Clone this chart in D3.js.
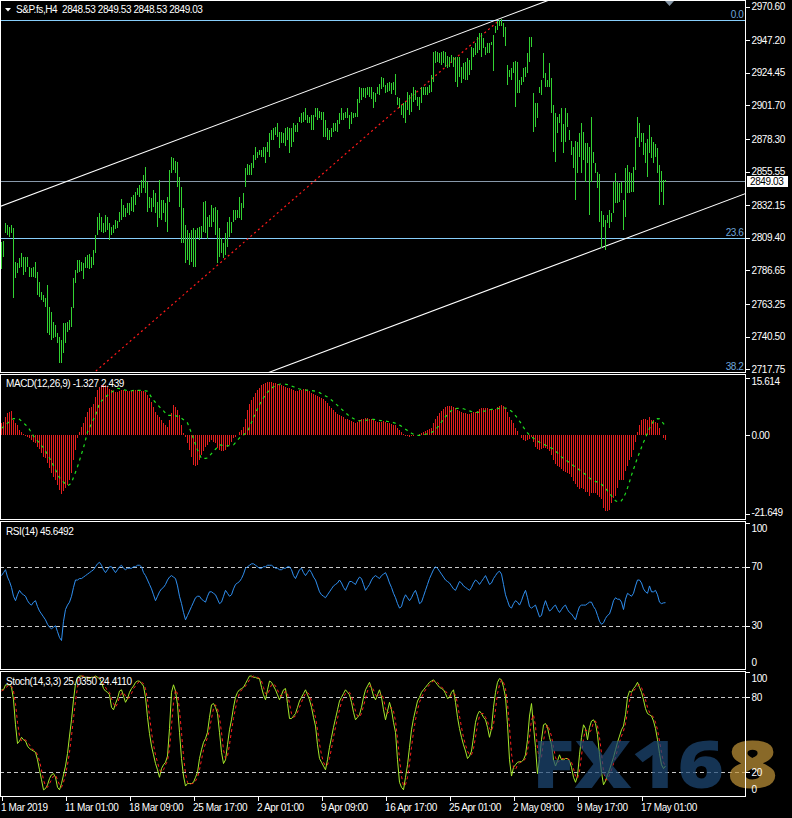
<!DOCTYPE html>
<html><head><meta charset="utf-8">
<script src="https://cdn.jsdelivr.net/npm/d3@7"></script>
<style>
html,body{margin:0;padding:0;background:#000;overflow:hidden}
svg{display:block}
</style></head><body>
<svg id="c" width="792" height="818"></svg>
<script>
// ---------- DATA ----------
const symbolTitle = "S&P.fs,H4  2848.53 2849.53 2848.53 2849.03";
const barHigh = [
2806.7,2807.4,2819.5,2818.3,2817.2,2818.3,2816.0,2792.8,2791.6,2795.1,
2798.6,2796.3,2796.3,2796.3,2789.3,2788.1,2789.3,2792.8,2785.8,2778.9,
2771.9,2769.6,2767.2,2776.5,2761.4,2757.9,2751.0,2748.6,2742.9,2740.5,
2738.2,2749.8,2749.8,2751.0,2752.1,2761.4,2781.2,2787.0,2794.0,2794.0,
2792.8,2791.6,2796.3,2797.4,2797.9,2796.3,2800.9,2811.4,2824.2,2826.9,
2824.2,2819.5,2825.3,2824.2,2819.5,2817.2,2818.3,2821.8,2821.3,2827.6,
2836.2,2832.3,2830.0,2833.4,2833.4,2838.1,2839.3,2841.6,2844.4,2846.2,
2849.7,2853.2,2859.0,2848.5,2838.1,2836.9,2842.7,2840.4,2834.6,2849.7,
2835.8,2835.8,2833.4,2838.1,2856.7,2866.0,2864.8,2863.2,2862.5,2852.0,
2845.1,2830.0,2818.3,2814.9,2812.5,2814.9,2816.0,2814.9,2816.0,2817.2,
2817.6,2834.6,2835.1,2824.2,2825.3,2832.3,2830.0,2831.1,2828.8,2816.0,
2809.1,2805.6,2812.5,2820.7,2824.2,2820.7,2828.8,2828.8,2828.8,2838.1,
2833.4,2840.9,2857.8,2860.9,2860.2,2861.8,2867.1,2872.9,2869.5,2870.6,
2870.6,2872.9,2872.9,2876.4,2882.2,2884.6,2885.7,2886.9,2889.6,2883.4,
2883.4,2882.7,2885.7,2886.9,2885.7,2885.7,2889.2,2888.0,2889.2,2893.8,
2896.2,2897.3,2899.6,2895.0,2893.8,2895.0,2895.0,2899.6,2899.6,2897.8,
2897.3,2897.3,2891.5,2885.7,2884.6,2885.7,2889.2,2889.6,2891.5,2896.2,
2899.6,2896.2,2897.3,2899.6,2895.0,2897.3,2896.2,2896.6,2905.9,2914.3,
2913.6,2913.6,2913.6,2914.3,2914.3,2914.8,2911.3,2910.1,2914.3,2916.6,
2921.3,2920.6,2915.9,2917.5,2918.2,2917.1,2918.2,2923.6,2907.3,2906.6,
2902.0,2903.6,2904.3,2911.3,2908.9,2910.6,2914.3,2912.4,2907.8,2907.8,
2914.3,2914.8,2914.3,2914.8,2915.9,2922.9,2939.1,2939.8,2939.1,2938.4,
2939.1,2939.8,2939.1,2936.1,2935.2,2936.8,2935.6,2935.6,2935.6,2935.2,
2928.7,2931.0,2932.2,2934.5,2933.3,2942.6,2941.5,2945.0,2949.1,2951.9,
2951.9,2948.4,2942.6,2945.0,2945.4,2946.1,2950.8,2957.0,2960.7,2961.2,
2961.7,2959.4,2956.6,2929.8,2926.4,2927.5,2932.2,2932.9,2932.2,2919.4,
2921.7,2927.5,2928.7,2938.0,2949.1,2949.6,2910.6,2903.6,2903.6,2914.3,
2919.4,2938.0,2924.0,2919.4,2931.0,2920.6,2902.0,2896.2,2893.4,2895.7,
2899.6,2888.7,2899.6,2896.2,2884.6,2877.1,2872.9,2877.1,2876.4,2882.2,
2889.6,2883.4,2875.3,2875.3,2872.9,2893.4,2869.4,2861.3,2855.5,2853.9,
2828.3,2825.3,2821.8,2825.3,2828.8,2826.5,2848.5,2854.4,2848.5,2847.8,
2848.5,2835.8,2857.8,2860.2,2855.5,2854.8,2859.0,2879.9,2893.8,2889.6,
2882.2,2882.2,2875.3,2878.1,2888.0,2879.4,2876.4,2874.8,2871.8,2860.2,
2856.2,2849.7,2849.53];
const barLow = [
2787.4,2796.3,2812.5,2811.4,2810.2,2812.5,2767.2,2781.2,2784.7,2788.1,
2789.3,2783.5,2785.8,2789.3,2782.3,2781.9,2782.3,2781.2,2769.6,2768.4,
2766.1,2764.9,2761.4,2742.9,2741.7,2738.2,2739.4,2740.5,2735.9,2721.9,
2721.9,2728.9,2735.9,2744.0,2745.2,2747.5,2760.3,2777.7,2784.7,2785.8,
2786.5,2780.5,2788.1,2788.1,2787.4,2788.1,2790.5,2798.6,2811.4,2814.9,
2813.7,2812.5,2813.7,2814.9,2807.9,2811.4,2812.5,2815.3,2816.0,2820.7,
2821.8,2824.2,2824.2,2826.5,2825.3,2828.3,2827.6,2832.3,2839.3,2838.1,
2840.4,2843.9,2840.4,2827.6,2830.0,2827.6,2831.1,2826.5,2817.2,2823.0,
2821.8,2826.5,2820.7,2813.7,2834.6,2854.4,2856.7,2854.4,2845.1,2831.1,
2805.6,2805.6,2791.6,2793.9,2790.5,2792.8,2789.3,2789.3,2809.1,2807.9,
2809.1,2813.7,2812.5,2808.4,2817.2,2817.2,2820.7,2811.4,2791.6,2796.3,
2798.6,2795.1,2797.4,2803.2,2810.2,2812.5,2820.7,2821.8,2823.0,2823.0,
2821.8,2830.0,2845.1,2853.2,2853.2,2853.2,2857.8,2863.7,2864.8,2867.1,
2866.0,2865.5,2861.8,2869.5,2866.0,2877.6,2877.6,2881.1,2879.4,2871.8,
2875.3,2875.3,2873.4,2877.6,2868.8,2872.9,2876.4,2883.4,2883.4,2890.4,
2889.2,2890.4,2891.5,2889.2,2889.2,2884.6,2884.6,2893.4,2891.5,2892.7,
2891.5,2879.9,2879.9,2877.6,2877.6,2879.9,2883.4,2884.1,2883.4,2888.7,
2891.5,2891.5,2892.7,2892.7,2885.0,2888.7,2892.7,2893.4,2893.8,2903.1,
2905.5,2907.8,2906.6,2908.9,2907.8,2905.9,2899.6,2904.3,2909.6,2908.9,
2912.9,2914.3,2910.1,2911.3,2912.0,2909.6,2912.4,2908.9,2902.0,2899.6,
2895.0,2892.7,2889.6,2898.5,2895.0,2897.3,2904.3,2905.5,2901.3,2898.5,
2903.1,2908.9,2908.9,2908.9,2910.1,2911.3,2918.2,2931.0,2932.2,2931.0,
2929.8,2931.5,2928.7,2927.5,2928.7,2931.0,2928.2,2918.2,2914.3,2921.3,
2917.5,2919.9,2919.4,2919.4,2922.9,2926.4,2935.6,2936.8,2938.0,2940.3,
2935.6,2941.5,2936.8,2938.0,2938.4,2943.8,2925.9,2951.9,2954.2,2957.0,
2957.0,2949.6,2943.1,2915.9,2921.7,2919.4,2924.0,2900.8,2910.1,2910.1,
2915.9,2918.2,2921.7,2924.0,2932.2,2942.6,2883.4,2886.9,2892.7,2910.1,
2908.9,2920.6,2914.8,2914.8,2914.3,2896.2,2869.4,2862.5,2882.7,2889.2,
2876.4,2868.8,2876.4,2886.4,2877.6,2867.1,2857.8,2835.8,2854.4,2866.0,
2854.4,2863.7,2848.5,2861.3,2825.3,2848.5,2861.3,2854.4,2843.9,2820.7,
2802.1,2817.2,2800.9,2819.5,2816.0,2820.7,2826.5,2833.9,2833.4,2834.6,
2840.4,2814.9,2824.2,2840.4,2840.4,2841.6,2841.6,2856.7,2878.7,2872.9,
2876.4,2867.1,2861.3,2852.0,2868.3,2864.8,2861.3,2866.0,2854.4,2832.3,
2841.6,2832.3,2848.53];
const lastPrice = 2849.03;
const priceTicks = [2970.60,2947.20,2924.45,2901.70,2878.30,2855.55,2832.15,2809.40,2786.65,2763.25,2740.50,2717.75];
// trend lines: [barIndex, price] anchors
const upperChannel = [[0,2831.6],[250,2962.6]];
const lowerChannel = [[184,2741.9],[332,2819.3]];
const fibDiagonal = [[48,2717.5],[249,2961.2]];
const fibHigh = 2961.2, fibLow = 2318.2;
const fibLevels = [0.0, 23.6, 38.2];

const macdMain = [
3.2,3.6,5.0,6.1,6.3,6.6,4.1,3.2,2.7,1.4,
0.9,0.2,-0.3,-0.5,-0.9,-1.4,-1.8,-2.3,-3.2,-3.9,
-5.0,-5.9,-6.3,-7.7,-9.1,-10.4,-11.5,-12.2,-13.6,-15.0,
-16.3,-15.4,-14.5,-13.6,-12.2,-10.4,-6.8,-4.1,-0.9,0.9,
2.3,3.2,5.0,6.3,7.3,7.7,8.6,10.4,12.2,13.1,
13.6,13.6,13.6,13.1,12.7,12.2,12.1,11.8,11.8,12.1,
12.2,12.2,12.1,12.1,12.1,12.1,12.2,12.2,12.2,12.1,
12.1,12.1,11.8,10.9,10.0,9.1,7.7,6.3,5.4,5.0,
4.1,3.2,2.7,2.3,4.1,5.9,8.2,7.7,6.8,5.4,
2.7,0.5,-0.5,-2.3,-4.1,-5.9,-8.2,-8.6,-8.2,-6.8,
-5.4,-4.5,-3.2,-2.7,-1.8,-1.4,-1.8,-2.3,-3.6,-4.1,
-4.5,-4.5,-4.1,-3.2,-2.7,-1.8,-0.9,-0.5,0.0,0.9,
1.4,2.3,4.5,6.8,8.6,9.5,10.5,11.5,12.3,13.0,
13.6,14.0,14.2,14.4,14.5,14.5,14.3,14.2,14.0,13.8,
13.6,13.4,13.2,13.0,12.8,12.5,12.3,12.0,12.0,12.2,
12.4,12.5,12.5,12.3,12.0,11.5,11.2,11.0,10.8,10.5,
10.2,9.8,9.3,8.7,8.0,7.4,6.8,6.3,5.8,5.4,
5.1,4.8,4.5,4.3,4.0,3.8,3.6,3.4,3.5,4.0,
4.3,4.5,4.6,4.6,4.5,4.3,4.0,3.8,3.6,3.5,
3.6,3.8,3.6,3.4,3.2,3.0,2.8,2.6,2.0,1.4,
0.8,0.3,-0.2,-0.4,-0.5,-0.4,-0.2,0.0,0.1,0.2,
0.5,0.8,1.0,1.3,1.6,2.0,3.2,4.3,5.2,6.0,
6.7,7.2,7.6,7.9,8.0,8.0,7.8,7.3,6.9,6.6,
6.3,6.1,5.9,5.8,5.8,6.0,6.2,6.4,6.7,7.0,
7.3,7.4,7.4,7.3,7.2,7.1,6.8,7.2,7.6,7.9,
8.1,8.0,7.5,6.2,5.0,4.0,3.2,2.0,1.0,0.0,
-0.8,-1.3,-1.6,-1.5,-1.0,-0.6,-2.0,-3.2,-3.8,-4.0,
-3.9,-3.5,-3.6,-3.8,-4.5,-5.5,-6.8,-8.0,-8.6,-8.8,
-9.3,-10.0,-10.2,-10.3,-10.8,-11.5,-12.5,-13.5,-14.2,-14.8,
-14.6,-14.8,-15.5,-15.6,-16.8,-16.0,-15.8,-16.0,-16.5,-17.0,
-17.5,-19.9,-20.9,-20.9,-20.5,-18.6,-17.2,-16.8,-14.5,-12.2,
-12.2,-12.2,-10.0,-8.6,-6.8,-5.9,-4.1,-1.8,0.9,2.7,
4.2,4.5,4.5,4.1,5.0,4.1,4.2,3.6,3.2,1.8,
0.0,-0.7,-1.327];
const macdSignal = [
1.8,2.3,2.8,3.2,3.7,4.1,4.5,4.5,4.4,4.3,
3.8,3.3,2.8,2.3,1.5,0.6,-0.3,-0.9,-1.6,-2.2,
-2.9,-3.5,-4.4,-5.4,-6.3,-7.3,-8.4,-9.5,-10.6,-11.7,
-12.3,-12.9,-13.4,-13.9,-13.6,-13.1,-11.6,-10.2,-8.7,-7.0,
-5.2,-3.5,-1.4,0.8,2.0,3.1,4.3,5.4,7.0,8.7,
9.3,9.8,10.4,10.9,11.3,11.7,12.1,12.4,12.8,12.7,
12.6,12.4,12.3,12.1,12.1,12.1,12.2,12.2,12.2,12.2,
12.2,12.1,12.1,12.0,11.2,10.3,9.5,8.9,8.3,7.7,
7.1,6.6,6.0,5.4,5.4,5.4,5.4,5.3,5.1,5.0,
4.6,4.2,3.7,3.3,1.9,0.5,-1.0,-2.6,-4.1,-5.3,
-6.5,-6.4,-6.4,-6.3,-5.7,-5.1,-4.5,-3.9,-3.3,-2.7,
-2.8,-2.9,-3.0,-3.0,-2.9,-2.8,-2.7,-2.1,-1.4,-0.8,
-0.4,0.0,0.5,0.9,2.2,3.5,4.8,6.0,7.2,8.3,
9.3,10.2,11.0,11.7,12.3,12.8,13.2,13.5,13.7,13.9,
14.0,14.0,13.9,13.8,13.6,13.4,13.2,13.0,12.8,12.6,
12.5,12.4,12.3,12.3,12.3,12.2,12.1,12.0,11.8,11.6,
11.3,11.0,10.7,10.4,10.0,9.6,9.1,8.6,8.1,7.6,
7.1,6.6,6.1,5.6,5.2,4.8,4.5,4.2,4.0,3.9,
3.9,3.9,4.0,4.1,4.2,4.3,4.3,4.2,4.1,4.0,
3.9,3.9,3.8,3.7,3.6,3.5,3.4,3.2,3.0,2.7,
2.4,2.0,1.6,1.2,0.8,0.5,0.2,0.0,-0.1,-0.1,
0.0,0.1,0.2,0.3,0.5,0.7,1.0,1.5,2.1,2.8,
3.6,4.3,5.0,5.6,6.2,6.7,7.0,7.2,7.3,7.3,
7.3,7.2,7.0,6.8,6.6,6.4,6.3,6.2,6.2,6.3,
6.4,6.5,6.6,6.8,6.9,7.0,7.0,7.1,7.2,7.3,
7.4,7.4,7.4,7.2,6.9,6.5,6.0,5.3,4.6,3.8,
3.0,2.1,1.3,0.6,0.0,-0.5,-0.9,-1.3,-1.7,-2.0,
-2.3,-2.5,-2.8,-3.0,-3.3,-3.6,-4.0,-4.4,-4.9,-5.4,
-6.0,-6.4,-6.8,-7.2,-7.6,-8.0,-8.4,-8.8,-9.2,-9.6,
-10.0,-10.4,-10.8,-11.3,-11.8,-12.2,-12.5,-12.7,-12.9,-13.1,
-13.5,-14.0,-14.6,-15.3,-16.0,-16.7,-17.4,-18.0,-18.3,-18.4,
-18.0,-17.2,-16.0,-14.5,-12.8,-11.0,-9.4,-7.8,-6.2,-4.8,
-3.4,-2.0,-0.8,0.6,1.8,2.9,3.8,4.3,4.5,4.4,
3.8,3.1,2.439];
const macdTicks = [15.614, 0, -21.649];
const macdTickLabels = ["15.614","0.00","-21.649"];

const rsiValues = [
64,66,68,63,60,56,50,47,51,54,52,51,50,47,45,44,46,47,43,40,
38,36,34,31,29,28,29,30,26,22,20,33,41,44,46,50,56,61,61,62,
62,63,64,65,66,67,68,70,72,73,71,68,66,68,70,70,68,66,68,70,
71,69,68,69,69,69,70,70,71,71,70,66,64,61,58,55,51,47,50,53,
55,56,58,61,63,64,63,62,57,50,45,39,34,37,40,43,46,49,50,50,
48,47,46,50,53,53,52,51,48,45,46,50,54,52,50,51,55,58,59,60,
62,65,69,70,71,72,72,71,70,69,69,70,70,71,71,71,70,69,69,68,
68,69,69,70,70,68,64,62,65,68,69,66,64,66,68,66,63,61,57,53,
51,50,49,51,53,55,57,58,59,61,59,56,54,57,60,60,59,58,61,63,
62,58,54,56,58,61,63,64,63,62,64,65,66,63,59,56,52,49,45,42,
43,48,51,49,47,49,52,54,50,45,46,50,54,58,62,65,68,70,69,67,
65,63,61,60,59,57,55,54,57,60,59,57,56,55,54,56,59,61,60,58,
60,62,64,61,58,59,62,64,66,67,65,58,51,47,43,42,45,47,46,44,
47,51,54,49,43,42,43,44,40,36,37,43,47,43,40,41,43,44,41,39,
41,43,44,41,39,38,36,34,39,43,44,44,44,45,46,46,43,41,37,33,
31,32,35,37,38,42,47,49,48,48,46,41,48,52,51,50,52,57,61,61,
59,55,53,52,57,53,53,54,51,46,45,45.5,45.6492];
const rsiTicks = [100,70,30,0];
const rsiLevels = [70,30];

const stochMain = [
86,86,90,90,90,88,78,58,43,45,48,46,45,41,39,38,37,36,30,22,
14,6,7,10,15,18,19,16,8,6,11,18,25,35,49,62,78,91,96,97,
97,96,96,96,95,96,96,97,96,95,92,87,85,84,82,72,70,75,79,85,
86,81,76,79,84,87,89,92,93,93,91,89,80,64,51,41,34,27,22,16,
23,26,28,33,55,84,90,85,74,52,31,17,9,11,11,11,12,16,20,31,
38,44,47,52,64,74,75,72,67,52,36,27,30,42,54,62,72,80,84,86,
87,88,91,94,97,97,96,96,95,95,88,82,78,86,93,92,89,86,82,78,
82,86,87,75,63,63,65,67,72,77,80,83,86,82,78,72,64,57,42,31,
28,25,22,30,40,48,56,63,70,77,80,83,86,84,82,76,68,62,64,66,
72,80,86,89,92,87,81,78,82,86,80,70,62,69,76,70,60,52,30,12,
8,6,16,26,40,54,63,70,77,80,84,86,88,90,92,93,94,92,90,88,
87,86,83,79,80,84,86,76,64,55,48,42,37,31,33,37,48,60,66,69,
67,64,62,56,48,55,72,84,92,95,94,88,80,58,30,17,24,26,28,28.5,
28.5,30,34,46,65,75,57,40,19,30,46,58,59,56,48,42,30,25,29,34,
30,30,31,31,29,24,16,12,17,34,48,58,55,46,56,61,62,59,50,34,
20,10,13,18,22,27,32,38,44,49,54,57,66,80,85,84,87,89,92,88,
84,78,71,67,66,65,61,55,46,35,26,23,25.035];
const stochSignal = [
85,86,87,89,90,89,85,75,60,49,45,46,46,44,42,39,38,37,34,29,
22,14,9,8,11,14,17,18,14,10,8,12,18,26,36,49,63,77,88,95,
97,97,96,96,96,96,96,96,96,96,94,91,88,85,84,79,75,72,75,80,
83,84,81,79,80,83,87,89,91,93,92,91,87,78,65,52,42,34,28,22,
20,22,26,29,39,57,76,86,83,70,52,33,19,12,10,11,11,13,16,22,
30,38,43,48,54,63,71,74,71,64,52,38,31,33,42,53,63,71,79,83,
86,87,89,91,94,96,97,96,96,95,93,88,83,82,86,90,91,89,86,82,
81,82,85,83,75,67,64,65,68,72,76,80,83,84,82,77,71,64,54,43,
34,28,25,26,31,39,48,56,63,70,76,80,83,84,84,81,75,69,65,64,
67,73,79,85,89,89,86,82,80,82,83,79,71,67,69,72,69,61,47,31,
17,9,10,16,27,40,52,62,70,76,80,83,86,88,90,92,93,93,92,90,
88,87,85,83,81,81,83,82,75,65,56,48,42,37,34,34,39,48,58,65,
67,67,64,61,55,53,58,70,83,90,94,92,87,75,56,35,24,22,26,27.5,
28.3,29,31,37,48,62,66,57,39,30,32,45,54,58,54,49,40,32,28,29,
31,31,30,31,30,28,23,17,15,21,33,47,54,53,52,54,60,61,57,48,
35,21,14,14,18,22,27,32,38,44,49,53,59,68,77,83,85,87,89,90,
88,83,78,72,68,66,64,60,54,45,36,28,24.411];
const stochTicks = [100,80,20,0];
const stochLevels = [80,20];

const timeLabels = ["1 Mar 2019","11 Mar 01:00","18 Mar 09:00","25 Mar 17:00","2 Apr 01:00","9 Apr 09:00","16 Apr 17:00","25 Apr 01:00","2 May 09:00","9 May 17:00","17 May 01:00"];
const timeLabelBars = [0,32,64,96,128,160,192,224,256,288,320];
const watermarkParts = ["FX16","8"];

// ---------- LAYOUT ----------
const FONT = '"Liberation Sans",Arial,sans-serif';
const svg = d3.select('#c');
const R = 745.5;
const P = {
  main:{top:0.5,bottom:372.5},
  macd:{top:374.5,bottom:519.5},
  rsi:{top:521.5,bottom:669.5},
  stoch:{top:671.5,bottom:796.5}
};
svg.append('rect').attr('width',792).attr('height',818).attr('fill','#000');

const x = d3.scaleLinear().domain([0,1]).range([1.5,3.5]);
const yP = d3.scaleLinear().domain([2717.75,2970.60]).range([369.3,6.5]);
const yM = d3.scaleLinear().domain([-21.649,15.614]).range([514,378]);
const yR = d3.scaleLinear().domain([0,100]).range([670,522.5]);
const yS = d3.scaleLinear().domain([0,100]).range([797.3,672.3]);

function txt(sel){
  return sel.style('font-family',FONT).style('font-size','10px').style('letter-spacing','-0.4px');
}

const defs = svg.append('defs');
Object.entries(P).forEach(([k,p])=>{
  defs.append('clipPath').attr('id','clip-'+k).append('rect')
    .attr('x',1).attr('y',p.top+0.5).attr('width',R-1.5).attr('height',p.bottom-p.top-1);
});
defs.append('clipPath').attr('id','clip-wm').append('rect')
  .attr('x',500).attr('y',700).attr('width',292).attr('height',96);
const layer = k => svg.append('g').attr('clip-path','url(#clip-'+k+')');

// ---------- MAIN ----------
const gm = layer('main');
const fibPrice = l => fibHigh - (fibHigh-fibLow)*l/100;
fibLevels.forEach(l=>{
  const yy = Math.round(yP(fibPrice(l)))+0.5;
  gm.append('line').attr('x1',0).attr('x2',R).attr('y1',yy).attr('y2',yy)
    .attr('stroke','#87cefa').attr('stroke-width',1).attr('shape-rendering','crispEdges');
});
{
  const yy = Math.round(yP(lastPrice))+0.5;
  gm.append('line').attr('x1',0).attr('x2',R).attr('y1',yy).attr('y2',yy)
    .attr('stroke','#8899aa').attr('stroke-width',1).attr('shape-rendering','crispEdges');
}
function extLine(a,b,i0,i1){
  const s=(b[1]-a[1])/(b[0]-a[0]);
  return [[i0,a[1]+s*(i0-a[0])],[i1,a[1]+s*(i1-a[0])]];
}
const lineGen = d3.line().x(d=>x(d[0])).y(d=>yP(d[1]));
[upperChannel,lowerChannel].forEach(c=>{
  gm.append('path').attr('d',lineGen(extLine(c[0],c[1],-2,380)))
    .attr('stroke','#fff').attr('stroke-width',1.1).attr('fill','none');
});
gm.append('path').attr('d',lineGen(extLine(fibDiagonal[0],fibDiagonal[1],0,fibDiagonal[1][0])))
  .attr('stroke','#ff1a1a').attr('stroke-width',1.2).attr('stroke-dasharray','2,3').attr('fill','none');
gm.append('g').selectAll('line').data(barHigh).join('line')
  .attr('x1',(d,i)=>x(i)).attr('x2',(d,i)=>x(i))
  .attr('y1',(d,i)=>Math.round(yP(d)))
  .attr('y2',(d,i)=>Math.max(Math.round(yP(barLow[i])),Math.round(yP(d))+1))
  .attr('stroke','#32d232').attr('stroke-width',1).attr('shape-rendering','crispEdges');
fibLevels.forEach(l=>{
  txt(svg.append('text').attr('x',R-2).attr('y',Math.round(yP(fibPrice(l)))-2)
    .attr('text-anchor','end').attr('fill','#6fa6dc')).text(l.toFixed(1));
});

// ---------- MACD ----------
const gmacd = layer('macd');
gmacd.append('g').selectAll('line').data(macdMain).join('line')
  .attr('x1',(d,i)=>x(i)).attr('x2',(d,i)=>x(i))
  .attr('y1',yM(0)).attr('y2',d=>yM(d))
  .attr('stroke','#e31e1e').attr('stroke-width',1).attr('shape-rendering','crispEdges');
gmacd.append('path').datum(macdSignal)
  .attr('d',d3.line().x((d,i)=>x(i)).y(d=>yM(d)))
  .attr('stroke','#1fe01f').attr('stroke-width',1.2).attr('stroke-dasharray','3,4').attr('fill','none');

// ---------- RSI ----------
const grsi = layer('rsi');
rsiLevels.forEach(v=>{
  const yy=Math.round(yR(v))+0.5;
  grsi.append('line').attr('x1',0).attr('x2',R).attr('y1',yy).attr('y2',yy)
    .attr('stroke','#c8c8c8').attr('stroke-dasharray','4,3').attr('shape-rendering','crispEdges');
});
grsi.append('path').datum(rsiValues)
  .attr('d',d3.line().x((d,i)=>x(i)).y(d=>yR(d)))
  .attr('stroke','#2f8ff0').attr('stroke-width',1).attr('fill','none');

// ---------- STOCH ----------
const gst = layer('stoch');
stochLevels.forEach(v=>{
  const yy=Math.round(yS(v))+0.5;
  gst.append('line').attr('x1',0).attr('x2',R).attr('y1',yy).attr('y2',yy)
    .attr('stroke','#c8c8c8').attr('stroke-dasharray','4,3').attr('shape-rendering','crispEdges');
});
gst.append('path').datum(stochMain)
  .attr('d',d3.line().x((d,i)=>x(i)).y(d=>yS(d)))
  .attr('stroke','#a6e82a').attr('stroke-width',1).attr('fill','none');
gst.append('path').datum(stochSignal)
  .attr('d',d3.line().x((d,i)=>x(i)).y(d=>yS(d)))
  .attr('stroke','#ff2020').attr('stroke-width',1).attr('stroke-dasharray','3,3').attr('fill','none');

// watermark (semi-transparent overlay)
const wm = svg.append('g').attr('opacity',0.7).attr('clip-path','url(#clip-wm)');
wm.append('text').attr('x',532).attr('y',788)
  .style('font-family','"Open Sans",Lato,sans-serif').style('font-weight','800').style('font-size','66px')
  .attr('textLength',192).attr('lengthAdjust','spacingAndGlyphs')
  .attr('fill','#1f4a78').text(watermarkParts[0]);
wm.append('text').attr('x',727).attr('y',788)
  .style('font-family','"Open Sans",Lato,sans-serif').style('font-weight','800').style('font-size','66px')
  .attr('textLength',51).attr('lengthAdjust','spacingAndGlyphs')
  .attr('fill','#c4963a').text(watermarkParts[1]);

// ---------- FRAMES ----------
Object.values(P).forEach(p=>{
  svg.append('rect').attr('x',0.5).attr('y',p.top).attr('width',R-0.5).attr('height',p.bottom-p.top)
    .attr('fill','none').attr('stroke','#fff').attr('stroke-width',1).attr('shape-rendering','crispEdges');
});

// ---------- AXES ----------
function rightAxis(scale,ticks,fmt,p,clamp){
  const g = svg.append('g').attr('transform',`translate(${R},0)`)
    .call(d3.axisRight(scale).tickValues(ticks).tickFormat(fmt).tickSize(4).tickPadding(2));
  g.select('.domain').remove();
  g.attr('font-family',null).attr('font-size',null);
  g.selectAll('line').attr('stroke','#fff').attr('shape-rendering','crispEdges');
  txt(g.selectAll('text').attr('fill','#fff'));
  if(clamp){
    g.selectAll('.tick').each(function(d){
      const yy = scale(d);
      const c = Math.max(p.top+7, Math.min(p.bottom-7, yy));
      d3.select(this).select('text').attr('y', c-yy);
      if(yy<p.top||yy>p.bottom) d3.select(this).select('line').remove();
    });
  }
  return g;
}
rightAxis(yP,priceTicks,d=>d.toFixed(2),P.main,false);
rightAxis(yM,macdTicks,(d,i)=>macdTickLabels[i],P.macd,true);
rightAxis(yR,rsiTicks,d=>String(d),P.rsi,true);
rightAxis(yS,stochTicks,d=>String(d),P.stoch,true);

{
  const yy = Math.round(yP(lastPrice));
  svg.append('rect').attr('x',746.5).attr('y',yy-5.5).attr('width',41).attr('height',11)
    .attr('fill','#fff').attr('shape-rendering','crispEdges');
  txt(svg.append('text').attr('x',750).attr('y',yy+4).attr('fill','#000')).text(lastPrice.toFixed(2));
}

{
  const g = svg.append('g').attr('transform',`translate(0,${P.stoch.bottom})`)
    .call(d3.axisBottom(x).tickValues(timeLabelBars).tickFormat((d,i)=>timeLabels[i]).tickSize(4).tickPadding(3));
  g.select('.domain').remove();
  g.attr('font-family',null).attr('font-size',null);
  g.selectAll('line').attr('stroke','#fff').attr('shape-rendering','crispEdges');
  txt(g.selectAll('text').attr('fill','#fff').attr('text-anchor','start').attr('dx',-1));
}

// ---------- HEADERS ----------
svg.append('path').attr('d','M5,8 L11,8 L8,11.5 Z').attr('fill','#fff');
txt(svg.append('text').attr('x',16).attr('y',12.5).attr('fill','#fff').style('white-space','pre')).text(symbolTitle);
txt(svg.append('text').attr('x',6).attr('y',387).attr('fill','#fff'))
  .text(`MACD(12,26,9) ${macdMain[macdMain.length-1].toFixed(3)} ${macdSignal[macdSignal.length-1].toFixed(3)}`);
txt(svg.append('text').attr('x',6).attr('y',535).attr('fill','#fff'))
  .text(`RSI(14) ${rsiValues[rsiValues.length-1].toFixed(4)}`);
txt(svg.append('text').attr('x',6).attr('y',685).attr('fill','#fff'))
  .text(`Stoch(14,3,3) ${stochMain[stochMain.length-1].toFixed(4)} ${stochSignal[stochSignal.length-1].toFixed(4)}`);
svg.append('path').attr('d','M665,1 L674,1 L669.5,6 Z').attr('fill','#8696a6');
</script>
</body></html>
